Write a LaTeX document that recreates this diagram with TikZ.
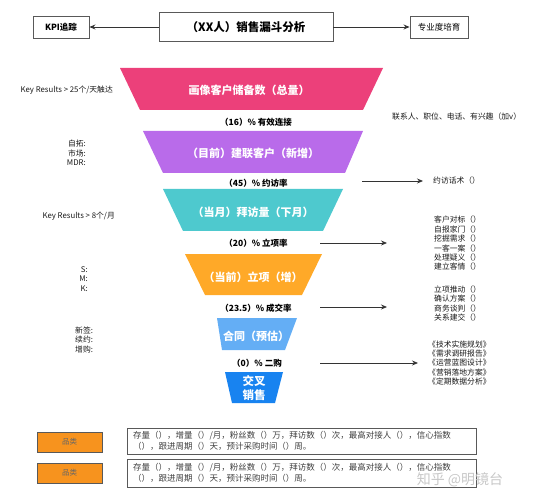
\documentclass[tikz,border=0pt]{standalone}
\usepackage{fontspec}
\setmainfont{Noto Sans CJK SC}
\usetikzlibrary{arrows.meta}
\definecolor{funnelpink}{HTML}{EC407A}
\definecolor{funnelpurple}{HTML}{B96BEA}
\definecolor{funnelteal}{HTML}{4EC9CE}
\definecolor{funnelorange}{HTML}{FFA928}
\definecolor{funnelsky}{HTML}{64AEF5}
\definecolor{funnelblue}{HTML}{1883F0}
\definecolor{tagorange}{HTML}{F7931E}
\begin{document}
\begin{tikzpicture}[x=1pt,y=-1pt,
	box/.style={draw=black!65,line width=0.9pt},
	layer/.style={text=white,font=\bfseries\fontsize{11}{13}\selectfont,align=center},
	rate/.style={font=\bfseries\fontsize{8.5}{10}\selectfont},
	note/.style={font=\fontsize{7.8}{9.4}\selectfont,inner sep=2pt,text=black!90},
	link/.style={draw=black!80,line width=0.8pt,-{Stealth[length=6pt,width=5pt]}},
	tag/.style={box,fill=tagorange,minimum width=65pt,minimum height=20pt,font=\fontsize{7.5}{9}\selectfont,text=black!60},
	memo/.style={box,inner xsep=6pt,text width=337pt,align=left,font=\fontsize{8.5}{10.5}\selectfont,text=black!75}]
	\useasboundingbox (0,0) rectangle (544,500);
	% header
	\node[box,minimum width=174pt,minimum height=29pt,font=\bfseries\fontsize{11.5}{13}\selectfont] (title) at (246,27) {（XX人）销售漏斗分析};
	\node[box,minimum width=56pt,minimum height=22pt,font=\bfseries\fontsize{8.5}{10}\selectfont] (kpi) at (61,27) {KPI追踪};
	\node[box,minimum width=58pt,minimum height=22pt,font=\fontsize{8.5}{10}\selectfont] (skill) at (439,27) {专业度培育};
	\draw[link] (title) -- (kpi);
	\draw[link] (title) -- (skill);
	% funnel
	\fill[funnelpink]   (120,68) -- (383,68) -- (363,110) -- (140,110) -- cycle;
	\fill[funnelpurple] (143,131) -- (363,131) -- (345,173) -- (163,173) -- cycle;
	\fill[funnelteal]   (163,189) -- (343,189) -- (323,231) -- (183,231) -- cycle;
	\fill[funnelorange] (185,254) -- (322,254) -- (302,295) -- (205,295) -- cycle;
	\fill[funnelsky]    (217,318) -- (297,318) -- (285,350) -- (222,350) -- cycle;
	\fill[funnelblue]   (225,372) -- (283,372) -- (275,403) -- (232,403) -- cycle;
	\node[layer] (stock) at (249,90) {画像客户储备数（总量）};
	\node[layer] (contact) at (253,153) {（目前）建联客户（新增）};
	\node[layer] (visit) at (253,212) {（当月）拜访量（下月）};
	\node[layer] (project) at (253,277) {（当前）立项（增）};
	\node[layer] (contract) at (256,336) {合同（预估）};
	\node[layer,font=\bfseries\fontsize{11.5}{14}\selectfont] (cross) at (254,388) {交叉\\销售};
	% rates
	\node[rate] (rateA) at (256,122) {（16）\% 有效连接};
	\node[rate] (rateB) at (256,183) {（45）\% 约访率};
	\node[rate] (rateC) at (256,243) {（20）\% 立项率};
	\node[rate] (rateD) at (256,308) {（23.5）\% 成交率};
	\node[rate] (rateE) at (257,363) {（0）\% 二购};
	% left notes
	\node[note,anchor=east] (krA) at (115,90) {Key Results > 25个/天触达};
	\node[note,anchor=east,align=right] (src) at (88,153) {自拓:\\市场:\\MDR:};
	\node[note,anchor=east] (krB) at (117,216) {Key Results > 8个/月};
	\node[note,anchor=east,align=right] (smk) at (90,279) {S:\\M:\\K:};
	\node[note,anchor=west,align=left] (deal) at (73,340) {新签:\\续约:\\增购:};
	% right notes
	\node[note,anchor=west] (info) at (390,117) {联系人、职位、电话、有兴趣（加v）};
	\node[note,anchor=west] (talk) at (431,181) {约访话术（）};
	\node[note,anchor=west,align=left] (steps) at (432,243.5) {客户对标（）\\自报家门（）\\挖掘需求（）\\一客一案（）\\处理疑义（）\\建立客情（）};
	\node[note,anchor=west,align=left] (close) at (432,303.5) {立项推动（）\\确认方案（）\\商务谈判（）\\关系建交（）};
	\node[note,anchor=west,align=left] (docs) at (426,363) {《技术实施规划》\\《需求调研报告》\\《运营蓝图设计》\\《营销落地方案》\\《定期数据分析》};
	\coordinate (goB) at (362,181);
	\coordinate (goC) at (320,243);
	\coordinate (endC) at (387,243);
	\coordinate (goD) at (320,307);
	\coordinate (endD) at (387,307);
	\coordinate (goE) at (320,363);
	\draw[link,shorten >=8pt] (goB) -- (talk.west);
	\draw[link] (goC) -- (endC);
	\draw[link] (goD) -- (endD);
	\draw[link,shorten >=8pt] (goE) -- (docs.west);
	% bottom rows
	\node[tag] (catA) at (69.5,442) {品类};
	\node[memo,minimum height=26pt] (memoA) at (301.5,441) {存量（），增量（）/月，粉丝数（）万，拜访数（）次，最高对接人（），信心指数\\（），跟进周期（）天，预计采购时间（）周。};
	\node[tag] (catB) at (69.5,473) {品类};
	\node[memo,minimum height=28pt] (memoB) at (301.5,473) {存量（），增量（）/月，粉丝数（）万，拜访数（）次，最高对接人（），信心指数\\（），跟进周期（）天，预计采购时间（）周。};
	\node[font=\fontsize{14}{16}\selectfont,text=black!22] (mark) at (460,480) {知乎 @明镜台};
\end{tikzpicture}
\end{document}
